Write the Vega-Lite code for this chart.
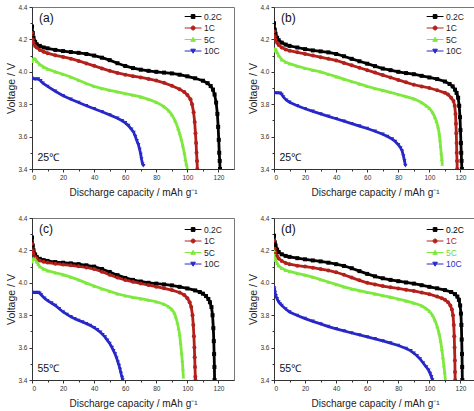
{
  "$schema": "https://vega.github.io/schema/vega-lite/v6.json",
  "background": "white",
  "padding": {"left": 5, "top": 3, "right": 0, "bottom": 0},
  "columns": 2,
  "spacing": {"row": 16, "column": 12},
  "resolve": {
    "scale": {"color": "independent"},
    "legend": {"color": "independent"}
  },
  "config": {
    "font": "Liberation Sans",
    "view": {"stroke": "#777777", "strokeWidth": 1},
    "axis": {
      "grid": false,
      "labelFont": "Liberation Sans",
      "labelFontSize": 6.5,
      "labelColor": "#333333",
      "titleFont": "Liberation Sans",
      "titleFontWeight": "normal",
      "titleColor": "#222222",
      "domainColor": "#333333",
      "tickColor": "#333333",
      "tickSize": 3
    },
    "legend": {"labelFont": "Liberation Sans", "labelColor": "#222222"}
  },
  "datasets": {
    "notes": [
      {"panel": "a", "tag": "(a)", "temp": "25℃"},
      {"panel": "b", "tag": "(b)", "temp": "25℃"},
      {"panel": "c", "tag": "(c)", "temp": "55℃"},
      {"panel": "d", "tag": "(d)", "temp": "55℃"}
    ],
    "a": [
      {"rate": "0.2C", "cap": 0, "v": 4.28}, {"rate": "0.2C", "cap": 0.5, "v": 4.24}, {"rate": "0.2C", "cap": 1, "v": 4.21}, {"rate": "0.2C", "cap": 2, "v": 4.185}, {"rate": "0.2C", "cap": 3, "v": 4.17}, {"rate": "0.2C", "cap": 5, "v": 4.16}, {"rate": "0.2C", "cap": 7.5, "v": 4.15}, {"rate": "0.2C", "cap": 10, "v": 4.145}, {"rate": "0.2C", "cap": 15, "v": 4.135}, {"rate": "0.2C", "cap": 20, "v": 4.128}, {"rate": "0.2C", "cap": 25, "v": 4.122}, {"rate": "0.2C", "cap": 30, "v": 4.117}, {"rate": "0.2C", "cap": 35, "v": 4.11}, {"rate": "0.2C", "cap": 40, "v": 4.1}, {"rate": "0.2C", "cap": 45, "v": 4.087}, {"rate": "0.2C", "cap": 50, "v": 4.072}, {"rate": "0.2C", "cap": 55, "v": 4.053}, {"rate": "0.2C", "cap": 60, "v": 4.036}, {"rate": "0.2C", "cap": 65, "v": 4.023}, {"rate": "0.2C", "cap": 70, "v": 4.013}, {"rate": "0.2C", "cap": 75, "v": 4.006}, {"rate": "0.2C", "cap": 80, "v": 4.0}, {"rate": "0.2C", "cap": 85, "v": 3.995}, {"rate": "0.2C", "cap": 90, "v": 3.99}, {"rate": "0.2C", "cap": 95, "v": 3.982}, {"rate": "0.2C", "cap": 100, "v": 3.972}, {"rate": "0.2C", "cap": 105, "v": 3.96}, {"rate": "0.2C", "cap": 110, "v": 3.945}, {"rate": "0.2C", "cap": 113, "v": 3.93}, {"rate": "0.2C", "cap": 115, "v": 3.912}, {"rate": "0.2C", "cap": 116.5, "v": 3.89}, {"rate": "0.2C", "cap": 117.5, "v": 3.86}, {"rate": "0.2C", "cap": 118.5, "v": 3.81}, {"rate": "0.2C", "cap": 119.3, "v": 3.74}, {"rate": "0.2C", "cap": 119.8, "v": 3.66}, {"rate": "0.2C", "cap": 120.2, "v": 3.58}, {"rate": "0.2C", "cap": 120.5, "v": 3.5}, {"rate": "0.2C", "cap": 120.8, "v": 3.45}, {"rate": "0.2C", "cap": 121, "v": 3.4},
      {"rate": "1C", "cap": 0, "v": 4.24}, {"rate": "1C", "cap": 0.5, "v": 4.2}, {"rate": "1C", "cap": 1, "v": 4.18}, {"rate": "1C", "cap": 2, "v": 4.16}, {"rate": "1C", "cap": 3, "v": 4.15}, {"rate": "1C", "cap": 5, "v": 4.135}, {"rate": "1C", "cap": 7.5, "v": 4.123}, {"rate": "1C", "cap": 10, "v": 4.115}, {"rate": "1C", "cap": 15, "v": 4.102}, {"rate": "1C", "cap": 20, "v": 4.092}, {"rate": "1C", "cap": 25, "v": 4.081}, {"rate": "1C", "cap": 30, "v": 4.067}, {"rate": "1C", "cap": 35, "v": 4.052}, {"rate": "1C", "cap": 40, "v": 4.037}, {"rate": "1C", "cap": 45, "v": 4.021}, {"rate": "1C", "cap": 50, "v": 4.006}, {"rate": "1C", "cap": 55, "v": 3.993}, {"rate": "1C", "cap": 60, "v": 3.982}, {"rate": "1C", "cap": 65, "v": 3.973}, {"rate": "1C", "cap": 70, "v": 3.965}, {"rate": "1C", "cap": 75, "v": 3.956}, {"rate": "1C", "cap": 80, "v": 3.946}, {"rate": "1C", "cap": 85, "v": 3.932}, {"rate": "1C", "cap": 90, "v": 3.914}, {"rate": "1C", "cap": 95, "v": 3.893}, {"rate": "1C", "cap": 98, "v": 3.875}, {"rate": "1C", "cap": 100, "v": 3.857}, {"rate": "1C", "cap": 102, "v": 3.83}, {"rate": "1C", "cap": 103, "v": 3.8}, {"rate": "1C", "cap": 104, "v": 3.75}, {"rate": "1C", "cap": 104.7, "v": 3.69}, {"rate": "1C", "cap": 105.2, "v": 3.62}, {"rate": "1C", "cap": 105.6, "v": 3.56}, {"rate": "1C", "cap": 105.9, "v": 3.5}, {"rate": "1C", "cap": 106.2, "v": 3.45}, {"rate": "1C", "cap": 106.4, "v": 3.4},
      {"rate": "5C", "cap": 0, "v": 4.065}, {"rate": "5C", "cap": 1, "v": 4.08}, {"rate": "5C", "cap": 2, "v": 4.08}, {"rate": "5C", "cap": 3, "v": 4.065}, {"rate": "5C", "cap": 5, "v": 4.045}, {"rate": "5C", "cap": 7.5, "v": 4.03}, {"rate": "5C", "cap": 10, "v": 4.017}, {"rate": "5C", "cap": 15, "v": 4.0}, {"rate": "5C", "cap": 20, "v": 3.985}, {"rate": "5C", "cap": 25, "v": 3.968}, {"rate": "5C", "cap": 30, "v": 3.948}, {"rate": "5C", "cap": 35, "v": 3.928}, {"rate": "5C", "cap": 40, "v": 3.91}, {"rate": "5C", "cap": 45, "v": 3.897}, {"rate": "5C", "cap": 50, "v": 3.886}, {"rate": "5C", "cap": 55, "v": 3.876}, {"rate": "5C", "cap": 60, "v": 3.866}, {"rate": "5C", "cap": 65, "v": 3.856}, {"rate": "5C", "cap": 70, "v": 3.845}, {"rate": "5C", "cap": 75, "v": 3.83}, {"rate": "5C", "cap": 80, "v": 3.812}, {"rate": "5C", "cap": 85, "v": 3.785}, {"rate": "5C", "cap": 88, "v": 3.76}, {"rate": "5C", "cap": 90, "v": 3.735}, {"rate": "5C", "cap": 92, "v": 3.7}, {"rate": "5C", "cap": 94, "v": 3.65}, {"rate": "5C", "cap": 95, "v": 3.62}, {"rate": "5C", "cap": 96, "v": 3.585}, {"rate": "5C", "cap": 97, "v": 3.545}, {"rate": "5C", "cap": 98, "v": 3.5}, {"rate": "5C", "cap": 98.7, "v": 3.46}, {"rate": "5C", "cap": 99.3, "v": 3.43}, {"rate": "5C", "cap": 100, "v": 3.4},
      {"rate": "10C", "cap": 0, "v": 3.96}, {"rate": "10C", "cap": 2, "v": 3.955}, {"rate": "10C", "cap": 4, "v": 3.955}, {"rate": "10C", "cap": 5.5, "v": 3.945}, {"rate": "10C", "cap": 7, "v": 3.93}, {"rate": "10C", "cap": 10, "v": 3.91}, {"rate": "10C", "cap": 15, "v": 3.88}, {"rate": "10C", "cap": 20, "v": 3.852}, {"rate": "10C", "cap": 25, "v": 3.83}, {"rate": "10C", "cap": 30, "v": 3.81}, {"rate": "10C", "cap": 35, "v": 3.79}, {"rate": "10C", "cap": 40, "v": 3.772}, {"rate": "10C", "cap": 45, "v": 3.753}, {"rate": "10C", "cap": 50, "v": 3.734}, {"rate": "10C", "cap": 55, "v": 3.713}, {"rate": "10C", "cap": 58, "v": 3.698}, {"rate": "10C", "cap": 60, "v": 3.685}, {"rate": "10C", "cap": 62, "v": 3.668}, {"rate": "10C", "cap": 64, "v": 3.645}, {"rate": "10C", "cap": 65.5, "v": 3.625}, {"rate": "10C", "cap": 66.5, "v": 3.6}, {"rate": "10C", "cap": 67.5, "v": 3.575}, {"rate": "10C", "cap": 68.5, "v": 3.55}, {"rate": "10C", "cap": 69.3, "v": 3.52}, {"rate": "10C", "cap": 70, "v": 3.49}, {"rate": "10C", "cap": 70.5, "v": 3.46}, {"rate": "10C", "cap": 71.2, "v": 3.43}, {"rate": "10C", "cap": 71.8, "v": 3.42}
    ],
    "b": [
      {"rate": "0.2C", "cap": 0, "v": 4.3}, {"rate": "0.2C", "cap": 0.5, "v": 4.26}, {"rate": "0.2C", "cap": 1, "v": 4.235}, {"rate": "0.2C", "cap": 2, "v": 4.21}, {"rate": "0.2C", "cap": 3, "v": 4.195}, {"rate": "0.2C", "cap": 5, "v": 4.18}, {"rate": "0.2C", "cap": 7.5, "v": 4.168}, {"rate": "0.2C", "cap": 10, "v": 4.16}, {"rate": "0.2C", "cap": 15, "v": 4.15}, {"rate": "0.2C", "cap": 20, "v": 4.14}, {"rate": "0.2C", "cap": 25, "v": 4.132}, {"rate": "0.2C", "cap": 30, "v": 4.126}, {"rate": "0.2C", "cap": 35, "v": 4.12}, {"rate": "0.2C", "cap": 40, "v": 4.11}, {"rate": "0.2C", "cap": 45, "v": 4.096}, {"rate": "0.2C", "cap": 50, "v": 4.08}, {"rate": "0.2C", "cap": 55, "v": 4.065}, {"rate": "0.2C", "cap": 60, "v": 4.05}, {"rate": "0.2C", "cap": 65, "v": 4.035}, {"rate": "0.2C", "cap": 70, "v": 4.02}, {"rate": "0.2C", "cap": 75, "v": 4.01}, {"rate": "0.2C", "cap": 80, "v": 4.0}, {"rate": "0.2C", "cap": 85, "v": 3.992}, {"rate": "0.2C", "cap": 90, "v": 3.985}, {"rate": "0.2C", "cap": 95, "v": 3.975}, {"rate": "0.2C", "cap": 100, "v": 3.965}, {"rate": "0.2C", "cap": 105, "v": 3.955}, {"rate": "0.2C", "cap": 110, "v": 3.94}, {"rate": "0.2C", "cap": 113, "v": 3.925}, {"rate": "0.2C", "cap": 115, "v": 3.91}, {"rate": "0.2C", "cap": 116.5, "v": 3.89}, {"rate": "0.2C", "cap": 117.5, "v": 3.87}, {"rate": "0.2C", "cap": 118.5, "v": 3.84}, {"rate": "0.2C", "cap": 119.2, "v": 3.79}, {"rate": "0.2C", "cap": 119.7, "v": 3.72}, {"rate": "0.2C", "cap": 120, "v": 3.64}, {"rate": "0.2C", "cap": 120.3, "v": 3.56}, {"rate": "0.2C", "cap": 120.5, "v": 3.5}, {"rate": "0.2C", "cap": 120.7, "v": 3.45}, {"rate": "0.2C", "cap": 120.9, "v": 3.4},
      {"rate": "1C", "cap": 0, "v": 4.25}, {"rate": "1C", "cap": 0.5, "v": 4.22}, {"rate": "1C", "cap": 1, "v": 4.2}, {"rate": "1C", "cap": 2, "v": 4.18}, {"rate": "1C", "cap": 3, "v": 4.165}, {"rate": "1C", "cap": 5, "v": 4.15}, {"rate": "1C", "cap": 7.5, "v": 4.138}, {"rate": "1C", "cap": 10, "v": 4.13}, {"rate": "1C", "cap": 15, "v": 4.12}, {"rate": "1C", "cap": 20, "v": 4.11}, {"rate": "1C", "cap": 25, "v": 4.1}, {"rate": "1C", "cap": 30, "v": 4.09}, {"rate": "1C", "cap": 35, "v": 4.08}, {"rate": "1C", "cap": 40, "v": 4.07}, {"rate": "1C", "cap": 45, "v": 4.055}, {"rate": "1C", "cap": 50, "v": 4.04}, {"rate": "1C", "cap": 55, "v": 4.025}, {"rate": "1C", "cap": 60, "v": 4.01}, {"rate": "1C", "cap": 65, "v": 3.995}, {"rate": "1C", "cap": 70, "v": 3.98}, {"rate": "1C", "cap": 75, "v": 3.965}, {"rate": "1C", "cap": 80, "v": 3.95}, {"rate": "1C", "cap": 85, "v": 3.935}, {"rate": "1C", "cap": 90, "v": 3.92}, {"rate": "1C", "cap": 95, "v": 3.91}, {"rate": "1C", "cap": 100, "v": 3.9}, {"rate": "1C", "cap": 105, "v": 3.886}, {"rate": "1C", "cap": 110, "v": 3.87}, {"rate": "1C", "cap": 112, "v": 3.86}, {"rate": "1C", "cap": 114, "v": 3.84}, {"rate": "1C", "cap": 115.5, "v": 3.82}, {"rate": "1C", "cap": 116.3, "v": 3.79}, {"rate": "1C", "cap": 116.8, "v": 3.74}, {"rate": "1C", "cap": 117.1, "v": 3.68}, {"rate": "1C", "cap": 117.3, "v": 3.62}, {"rate": "1C", "cap": 117.5, "v": 3.56}, {"rate": "1C", "cap": 117.6, "v": 3.5}, {"rate": "1C", "cap": 117.8, "v": 3.45}, {"rate": "1C", "cap": 117.9, "v": 3.4},
      {"rate": "5C", "cap": 0, "v": 4.13}, {"rate": "5C", "cap": 0.5, "v": 4.14}, {"rate": "5C", "cap": 1, "v": 4.14}, {"rate": "5C", "cap": 2, "v": 4.12}, {"rate": "5C", "cap": 3, "v": 4.1}, {"rate": "5C", "cap": 5, "v": 4.075}, {"rate": "5C", "cap": 7.5, "v": 4.06}, {"rate": "5C", "cap": 10, "v": 4.05}, {"rate": "5C", "cap": 15, "v": 4.035}, {"rate": "5C", "cap": 20, "v": 4.022}, {"rate": "5C", "cap": 25, "v": 4.01}, {"rate": "5C", "cap": 30, "v": 4.0}, {"rate": "5C", "cap": 35, "v": 3.985}, {"rate": "5C", "cap": 40, "v": 3.97}, {"rate": "5C", "cap": 45, "v": 3.955}, {"rate": "5C", "cap": 50, "v": 3.94}, {"rate": "5C", "cap": 55, "v": 3.925}, {"rate": "5C", "cap": 60, "v": 3.91}, {"rate": "5C", "cap": 65, "v": 3.897}, {"rate": "5C", "cap": 70, "v": 3.885}, {"rate": "5C", "cap": 75, "v": 3.873}, {"rate": "5C", "cap": 80, "v": 3.86}, {"rate": "5C", "cap": 85, "v": 3.847}, {"rate": "5C", "cap": 90, "v": 3.833}, {"rate": "5C", "cap": 95, "v": 3.81}, {"rate": "5C", "cap": 98, "v": 3.79}, {"rate": "5C", "cap": 100, "v": 3.775}, {"rate": "5C", "cap": 102, "v": 3.75}, {"rate": "5C", "cap": 103.5, "v": 3.72}, {"rate": "5C", "cap": 104.5, "v": 3.695}, {"rate": "5C", "cap": 105.5, "v": 3.66}, {"rate": "5C", "cap": 106.3, "v": 3.62}, {"rate": "5C", "cap": 106.8, "v": 3.58}, {"rate": "5C", "cap": 107.2, "v": 3.54}, {"rate": "5C", "cap": 107.6, "v": 3.5}, {"rate": "5C", "cap": 108, "v": 3.46}, {"rate": "5C", "cap": 108.3, "v": 3.43},
      {"rate": "10C", "cap": 0, "v": 3.87}, {"rate": "10C", "cap": 2, "v": 3.87}, {"rate": "10C", "cap": 4, "v": 3.868}, {"rate": "10C", "cap": 5, "v": 3.86}, {"rate": "10C", "cap": 6, "v": 3.845}, {"rate": "10C", "cap": 8, "v": 3.825}, {"rate": "10C", "cap": 10, "v": 3.812}, {"rate": "10C", "cap": 15, "v": 3.79}, {"rate": "10C", "cap": 20, "v": 3.772}, {"rate": "10C", "cap": 25, "v": 3.756}, {"rate": "10C", "cap": 30, "v": 3.74}, {"rate": "10C", "cap": 35, "v": 3.725}, {"rate": "10C", "cap": 40, "v": 3.71}, {"rate": "10C", "cap": 45, "v": 3.695}, {"rate": "10C", "cap": 50, "v": 3.68}, {"rate": "10C", "cap": 55, "v": 3.665}, {"rate": "10C", "cap": 60, "v": 3.65}, {"rate": "10C", "cap": 65, "v": 3.633}, {"rate": "10C", "cap": 70, "v": 3.615}, {"rate": "10C", "cap": 73, "v": 3.6}, {"rate": "10C", "cap": 76, "v": 3.585}, {"rate": "10C", "cap": 78, "v": 3.57}, {"rate": "10C", "cap": 80, "v": 3.55}, {"rate": "10C", "cap": 81.5, "v": 3.53}, {"rate": "10C", "cap": 82.5, "v": 3.51}, {"rate": "10C", "cap": 83.3, "v": 3.48}, {"rate": "10C", "cap": 84, "v": 3.45}, {"rate": "10C", "cap": 84.6, "v": 3.42}
    ],
    "c": [
      {"rate": "0.2C", "cap": 0, "v": 4.28}, {"rate": "0.2C", "cap": 0.5, "v": 4.23}, {"rate": "0.2C", "cap": 1, "v": 4.2}, {"rate": "0.2C", "cap": 2, "v": 4.175}, {"rate": "0.2C", "cap": 3, "v": 4.16}, {"rate": "0.2C", "cap": 5, "v": 4.148}, {"rate": "0.2C", "cap": 7.5, "v": 4.14}, {"rate": "0.2C", "cap": 10, "v": 4.135}, {"rate": "0.2C", "cap": 15, "v": 4.128}, {"rate": "0.2C", "cap": 20, "v": 4.124}, {"rate": "0.2C", "cap": 25, "v": 4.12}, {"rate": "0.2C", "cap": 30, "v": 4.115}, {"rate": "0.2C", "cap": 35, "v": 4.108}, {"rate": "0.2C", "cap": 40, "v": 4.1}, {"rate": "0.2C", "cap": 45, "v": 4.085}, {"rate": "0.2C", "cap": 50, "v": 4.067}, {"rate": "0.2C", "cap": 55, "v": 4.047}, {"rate": "0.2C", "cap": 60, "v": 4.03}, {"rate": "0.2C", "cap": 65, "v": 4.018}, {"rate": "0.2C", "cap": 70, "v": 4.008}, {"rate": "0.2C", "cap": 75, "v": 4.0}, {"rate": "0.2C", "cap": 80, "v": 3.995}, {"rate": "0.2C", "cap": 85, "v": 3.99}, {"rate": "0.2C", "cap": 90, "v": 3.984}, {"rate": "0.2C", "cap": 95, "v": 3.975}, {"rate": "0.2C", "cap": 100, "v": 3.965}, {"rate": "0.2C", "cap": 105, "v": 3.953}, {"rate": "0.2C", "cap": 108, "v": 3.943}, {"rate": "0.2C", "cap": 110, "v": 3.933}, {"rate": "0.2C", "cap": 112, "v": 3.918}, {"rate": "0.2C", "cap": 113.5, "v": 3.9}, {"rate": "0.2C", "cap": 114.5, "v": 3.88}, {"rate": "0.2C", "cap": 115.5, "v": 3.85}, {"rate": "0.2C", "cap": 116.2, "v": 3.8}, {"rate": "0.2C", "cap": 116.7, "v": 3.72}, {"rate": "0.2C", "cap": 117, "v": 3.64}, {"rate": "0.2C", "cap": 117.2, "v": 3.56}, {"rate": "0.2C", "cap": 117.4, "v": 3.48}, {"rate": "0.2C", "cap": 117.5, "v": 3.4},
      {"rate": "1C", "cap": 0, "v": 4.24}, {"rate": "1C", "cap": 0.5, "v": 4.2}, {"rate": "1C", "cap": 1, "v": 4.18}, {"rate": "1C", "cap": 2, "v": 4.16}, {"rate": "1C", "cap": 3, "v": 4.15}, {"rate": "1C", "cap": 5, "v": 4.138}, {"rate": "1C", "cap": 7.5, "v": 4.13}, {"rate": "1C", "cap": 10, "v": 4.125}, {"rate": "1C", "cap": 15, "v": 4.118}, {"rate": "1C", "cap": 20, "v": 4.113}, {"rate": "1C", "cap": 25, "v": 4.108}, {"rate": "1C", "cap": 30, "v": 4.102}, {"rate": "1C", "cap": 35, "v": 4.095}, {"rate": "1C", "cap": 40, "v": 4.085}, {"rate": "1C", "cap": 45, "v": 4.068}, {"rate": "1C", "cap": 50, "v": 4.05}, {"rate": "1C", "cap": 55, "v": 4.032}, {"rate": "1C", "cap": 60, "v": 4.018}, {"rate": "1C", "cap": 65, "v": 4.006}, {"rate": "1C", "cap": 70, "v": 3.996}, {"rate": "1C", "cap": 75, "v": 3.986}, {"rate": "1C", "cap": 80, "v": 3.976}, {"rate": "1C", "cap": 85, "v": 3.966}, {"rate": "1C", "cap": 90, "v": 3.955}, {"rate": "1C", "cap": 95, "v": 3.94}, {"rate": "1C", "cap": 98, "v": 3.925}, {"rate": "1C", "cap": 100, "v": 3.905}, {"rate": "1C", "cap": 101.5, "v": 3.88}, {"rate": "1C", "cap": 102.5, "v": 3.85}, {"rate": "1C", "cap": 103.3, "v": 3.8}, {"rate": "1C", "cap": 103.8, "v": 3.74}, {"rate": "1C", "cap": 104.2, "v": 3.67}, {"rate": "1C", "cap": 104.5, "v": 3.6}, {"rate": "1C", "cap": 104.7, "v": 3.54}, {"rate": "1C", "cap": 104.9, "v": 3.48}, {"rate": "1C", "cap": 105.1, "v": 3.42}, {"rate": "1C", "cap": 105.2, "v": 3.4},
      {"rate": "5C", "cap": 0, "v": 4.13}, {"rate": "5C", "cap": 1, "v": 4.15}, {"rate": "5C", "cap": 2, "v": 4.15}, {"rate": "5C", "cap": 3, "v": 4.13}, {"rate": "5C", "cap": 4, "v": 4.115}, {"rate": "5C", "cap": 5, "v": 4.1}, {"rate": "5C", "cap": 7.5, "v": 4.085}, {"rate": "5C", "cap": 10, "v": 4.075}, {"rate": "5C", "cap": 15, "v": 4.062}, {"rate": "5C", "cap": 20, "v": 4.05}, {"rate": "5C", "cap": 25, "v": 4.035}, {"rate": "5C", "cap": 30, "v": 4.018}, {"rate": "5C", "cap": 35, "v": 3.998}, {"rate": "5C", "cap": 40, "v": 3.98}, {"rate": "5C", "cap": 45, "v": 3.963}, {"rate": "5C", "cap": 50, "v": 3.948}, {"rate": "5C", "cap": 55, "v": 3.932}, {"rate": "5C", "cap": 60, "v": 3.92}, {"rate": "5C", "cap": 65, "v": 3.91}, {"rate": "5C", "cap": 70, "v": 3.902}, {"rate": "5C", "cap": 75, "v": 3.893}, {"rate": "5C", "cap": 80, "v": 3.883}, {"rate": "5C", "cap": 85, "v": 3.868}, {"rate": "5C", "cap": 88, "v": 3.852}, {"rate": "5C", "cap": 90, "v": 3.835}, {"rate": "5C", "cap": 91.5, "v": 3.815}, {"rate": "5C", "cap": 92.5, "v": 3.79}, {"rate": "5C", "cap": 93.5, "v": 3.755}, {"rate": "5C", "cap": 94.3, "v": 3.72}, {"rate": "5C", "cap": 95, "v": 3.68}, {"rate": "5C", "cap": 95.6, "v": 3.63}, {"rate": "5C", "cap": 96.2, "v": 3.57}, {"rate": "5C", "cap": 96.7, "v": 3.52}, {"rate": "5C", "cap": 97.1, "v": 3.47}, {"rate": "5C", "cap": 97.4, "v": 3.42},
      {"rate": "10C", "cap": 0, "v": 3.94}, {"rate": "10C", "cap": 2, "v": 3.94}, {"rate": "10C", "cap": 4, "v": 3.94}, {"rate": "10C", "cap": 5, "v": 3.935}, {"rate": "10C", "cap": 6, "v": 3.925}, {"rate": "10C", "cap": 8, "v": 3.905}, {"rate": "10C", "cap": 10, "v": 3.89}, {"rate": "10C", "cap": 12.5, "v": 3.875}, {"rate": "10C", "cap": 15, "v": 3.86}, {"rate": "10C", "cap": 17.5, "v": 3.84}, {"rate": "10C", "cap": 20, "v": 3.82}, {"rate": "10C", "cap": 22.5, "v": 3.805}, {"rate": "10C", "cap": 25, "v": 3.79}, {"rate": "10C", "cap": 27.5, "v": 3.778}, {"rate": "10C", "cap": 30, "v": 3.768}, {"rate": "10C", "cap": 32.5, "v": 3.758}, {"rate": "10C", "cap": 35, "v": 3.748}, {"rate": "10C", "cap": 37.5, "v": 3.737}, {"rate": "10C", "cap": 40, "v": 3.723}, {"rate": "10C", "cap": 42, "v": 3.71}, {"rate": "10C", "cap": 44, "v": 3.695}, {"rate": "10C", "cap": 45.5, "v": 3.68}, {"rate": "10C", "cap": 47, "v": 3.665}, {"rate": "10C", "cap": 48.5, "v": 3.645}, {"rate": "10C", "cap": 50, "v": 3.625}, {"rate": "10C", "cap": 51.5, "v": 3.6}, {"rate": "10C", "cap": 52.5, "v": 3.58}, {"rate": "10C", "cap": 53.5, "v": 3.56}, {"rate": "10C", "cap": 54.5, "v": 3.535}, {"rate": "10C", "cap": 55.3, "v": 3.51}, {"rate": "10C", "cap": 56, "v": 3.49}, {"rate": "10C", "cap": 56.7, "v": 3.465}, {"rate": "10C", "cap": 57.3, "v": 3.44}, {"rate": "10C", "cap": 58, "v": 3.415}, {"rate": "10C", "cap": 58.4, "v": 3.4}
    ],
    "d": [
      {"rate": "0.2C", "cap": 0, "v": 4.29}, {"rate": "0.2C", "cap": 0.5, "v": 4.25}, {"rate": "0.2C", "cap": 1, "v": 4.23}, {"rate": "0.2C", "cap": 2, "v": 4.205}, {"rate": "0.2C", "cap": 3, "v": 4.19}, {"rate": "0.2C", "cap": 5, "v": 4.176}, {"rate": "0.2C", "cap": 7.5, "v": 4.166}, {"rate": "0.2C", "cap": 10, "v": 4.16}, {"rate": "0.2C", "cap": 15, "v": 4.152}, {"rate": "0.2C", "cap": 20, "v": 4.145}, {"rate": "0.2C", "cap": 25, "v": 4.138}, {"rate": "0.2C", "cap": 30, "v": 4.132}, {"rate": "0.2C", "cap": 35, "v": 4.124}, {"rate": "0.2C", "cap": 40, "v": 4.115}, {"rate": "0.2C", "cap": 45, "v": 4.104}, {"rate": "0.2C", "cap": 50, "v": 4.09}, {"rate": "0.2C", "cap": 55, "v": 4.072}, {"rate": "0.2C", "cap": 60, "v": 4.055}, {"rate": "0.2C", "cap": 65, "v": 4.04}, {"rate": "0.2C", "cap": 70, "v": 4.028}, {"rate": "0.2C", "cap": 75, "v": 4.018}, {"rate": "0.2C", "cap": 80, "v": 4.01}, {"rate": "0.2C", "cap": 85, "v": 4.002}, {"rate": "0.2C", "cap": 90, "v": 3.995}, {"rate": "0.2C", "cap": 95, "v": 3.985}, {"rate": "0.2C", "cap": 100, "v": 3.975}, {"rate": "0.2C", "cap": 105, "v": 3.966}, {"rate": "0.2C", "cap": 110, "v": 3.955}, {"rate": "0.2C", "cap": 114, "v": 3.943}, {"rate": "0.2C", "cap": 116.5, "v": 3.93}, {"rate": "0.2C", "cap": 118, "v": 3.915}, {"rate": "0.2C", "cap": 119, "v": 3.895}, {"rate": "0.2C", "cap": 119.8, "v": 3.86}, {"rate": "0.2C", "cap": 120.3, "v": 3.81}, {"rate": "0.2C", "cap": 120.6, "v": 3.74}, {"rate": "0.2C", "cap": 120.8, "v": 3.65}, {"rate": "0.2C", "cap": 121, "v": 3.56}, {"rate": "0.2C", "cap": 121.1, "v": 3.48}, {"rate": "0.2C", "cap": 121.2, "v": 3.4},
      {"rate": "1C", "cap": 0, "v": 4.26}, {"rate": "1C", "cap": 0.5, "v": 4.21}, {"rate": "1C", "cap": 1, "v": 4.19}, {"rate": "1C", "cap": 2, "v": 4.165}, {"rate": "1C", "cap": 3, "v": 4.15}, {"rate": "1C", "cap": 5, "v": 4.135}, {"rate": "1C", "cap": 7.5, "v": 4.122}, {"rate": "1C", "cap": 10, "v": 4.115}, {"rate": "1C", "cap": 15, "v": 4.106}, {"rate": "1C", "cap": 20, "v": 4.1}, {"rate": "1C", "cap": 25, "v": 4.093}, {"rate": "1C", "cap": 30, "v": 4.085}, {"rate": "1C", "cap": 35, "v": 4.076}, {"rate": "1C", "cap": 40, "v": 4.065}, {"rate": "1C", "cap": 45, "v": 4.05}, {"rate": "1C", "cap": 50, "v": 4.032}, {"rate": "1C", "cap": 55, "v": 4.015}, {"rate": "1C", "cap": 60, "v": 4.0}, {"rate": "1C", "cap": 65, "v": 3.99}, {"rate": "1C", "cap": 70, "v": 3.98}, {"rate": "1C", "cap": 75, "v": 3.972}, {"rate": "1C", "cap": 80, "v": 3.965}, {"rate": "1C", "cap": 85, "v": 3.957}, {"rate": "1C", "cap": 90, "v": 3.95}, {"rate": "1C", "cap": 95, "v": 3.94}, {"rate": "1C", "cap": 100, "v": 3.93}, {"rate": "1C", "cap": 105, "v": 3.915}, {"rate": "1C", "cap": 108, "v": 3.905}, {"rate": "1C", "cap": 110, "v": 3.895}, {"rate": "1C", "cap": 112, "v": 3.88}, {"rate": "1C", "cap": 113.5, "v": 3.86}, {"rate": "1C", "cap": 114.5, "v": 3.835}, {"rate": "1C", "cap": 115.2, "v": 3.8}, {"rate": "1C", "cap": 115.7, "v": 3.74}, {"rate": "1C", "cap": 116, "v": 3.67}, {"rate": "1C", "cap": 116.2, "v": 3.6}, {"rate": "1C", "cap": 116.4, "v": 3.52}, {"rate": "1C", "cap": 116.5, "v": 3.45}, {"rate": "1C", "cap": 116.6, "v": 3.4},
      {"rate": "5C", "cap": 0, "v": 4.2}, {"rate": "5C", "cap": 0.5, "v": 4.16}, {"rate": "5C", "cap": 1, "v": 4.14}, {"rate": "5C", "cap": 2, "v": 4.12}, {"rate": "5C", "cap": 3, "v": 4.105}, {"rate": "5C", "cap": 5, "v": 4.09}, {"rate": "5C", "cap": 7.5, "v": 4.078}, {"rate": "5C", "cap": 10, "v": 4.07}, {"rate": "5C", "cap": 15, "v": 4.058}, {"rate": "5C", "cap": 20, "v": 4.048}, {"rate": "5C", "cap": 25, "v": 4.035}, {"rate": "5C", "cap": 30, "v": 4.02}, {"rate": "5C", "cap": 35, "v": 4.005}, {"rate": "5C", "cap": 40, "v": 3.99}, {"rate": "5C", "cap": 45, "v": 3.975}, {"rate": "5C", "cap": 50, "v": 3.962}, {"rate": "5C", "cap": 55, "v": 3.951}, {"rate": "5C", "cap": 60, "v": 3.941}, {"rate": "5C", "cap": 65, "v": 3.931}, {"rate": "5C", "cap": 70, "v": 3.921}, {"rate": "5C", "cap": 75, "v": 3.911}, {"rate": "5C", "cap": 80, "v": 3.9}, {"rate": "5C", "cap": 85, "v": 3.888}, {"rate": "5C", "cap": 90, "v": 3.875}, {"rate": "5C", "cap": 95, "v": 3.858}, {"rate": "5C", "cap": 98, "v": 3.84}, {"rate": "5C", "cap": 100, "v": 3.825}, {"rate": "5C", "cap": 102, "v": 3.8}, {"rate": "5C", "cap": 103.5, "v": 3.77}, {"rate": "5C", "cap": 105, "v": 3.73}, {"rate": "5C", "cap": 106.2, "v": 3.69}, {"rate": "5C", "cap": 107.2, "v": 3.64}, {"rate": "5C", "cap": 108, "v": 3.59}, {"rate": "5C", "cap": 108.7, "v": 3.54}, {"rate": "5C", "cap": 109.3, "v": 3.49}, {"rate": "5C", "cap": 109.8, "v": 3.45}, {"rate": "5C", "cap": 110.3, "v": 3.4},
      {"rate": "10C", "cap": 0, "v": 3.97}, {"rate": "10C", "cap": 0.3, "v": 3.96}, {"rate": "10C", "cap": 0.7, "v": 3.94}, {"rate": "10C", "cap": 1.2, "v": 3.92}, {"rate": "10C", "cap": 2, "v": 3.9}, {"rate": "10C", "cap": 3, "v": 3.882}, {"rate": "10C", "cap": 4, "v": 3.87}, {"rate": "10C", "cap": 5, "v": 3.86}, {"rate": "10C", "cap": 7.5, "v": 3.838}, {"rate": "10C", "cap": 10, "v": 3.82}, {"rate": "10C", "cap": 15, "v": 3.798}, {"rate": "10C", "cap": 20, "v": 3.779}, {"rate": "10C", "cap": 25, "v": 3.762}, {"rate": "10C", "cap": 30, "v": 3.746}, {"rate": "10C", "cap": 35, "v": 3.73}, {"rate": "10C", "cap": 40, "v": 3.716}, {"rate": "10C", "cap": 45, "v": 3.703}, {"rate": "10C", "cap": 50, "v": 3.69}, {"rate": "10C", "cap": 55, "v": 3.678}, {"rate": "10C", "cap": 60, "v": 3.666}, {"rate": "10C", "cap": 65, "v": 3.654}, {"rate": "10C", "cap": 70, "v": 3.641}, {"rate": "10C", "cap": 75, "v": 3.628}, {"rate": "10C", "cap": 80, "v": 3.613}, {"rate": "10C", "cap": 85, "v": 3.595}, {"rate": "10C", "cap": 88, "v": 3.58}, {"rate": "10C", "cap": 90, "v": 3.565}, {"rate": "10C", "cap": 92, "v": 3.55}, {"rate": "10C", "cap": 94, "v": 3.53}, {"rate": "10C", "cap": 96, "v": 3.505}, {"rate": "10C", "cap": 98, "v": 3.48}, {"rate": "10C", "cap": 99.5, "v": 3.46}, {"rate": "10C", "cap": 100.5, "v": 3.44}, {"rate": "10C", "cap": 101.3, "v": 3.42}, {"rate": "10C", "cap": 102, "v": 3.4}
    ]
  },
  "concat": [
    {
      "width": 202, "height": 162,
      "data": {"name": "a"},
      "layer": [
        {"mark": {"type": "line", "strokeWidth": 2.8, "clip": true},
         "encoding": {
           "x": {"field": "cap", "type": "quantitative", "scale": {"domain": [0, 130], "nice": false, "zero": false}, "axis": {"orient": "bottom", "values": [0, 20, 40, 60, 80, 100, 120], "title": "Discharge capacity / mAh g⁻¹", "titleFontSize": 10, "titlePadding": 6.5, "labelPadding": 2}},
           "y": {"field": "v", "type": "quantitative", "scale": {"domain": [3.4, 4.4], "nice": false, "zero": false}, "axis": {"orient": "left", "values": [3.4, 3.6, 3.8, 4.0, 4.2, 4.4], "format": ".1f", "title": "Voltage / V", "titleFontSize": 10.5, "titlePadding": 1.5, "labelPadding": 2}},
           "color": {"field": "rate", "type": "nominal", "scale": {"domain": ["0.2C", "1C", "5C", "10C"], "range": ["#000000", "#b3201c", "#7ee83e", "#2828c8"]},
             "legend": {"title": null, "orient": "none", "legendX": 161, "legendY": 5, "padding": 0, "symbolSize": 64, "labelFontSize": 8.5, "labelOffset": 2, "rowPadding": 2.5,
               "encode": {"symbols": {"update": {
                 "shape": {"signal": "datum.value === '0.2C' ? 'M-3.2,0H1M-1.57,-0.47H-0.63V0.47H-1.57Z' : datum.value === '1C' ? 'M-3.2,0H1M-1.6,0A0.5,0.5 0 1,0 -0.6,0A0.5,0.5 0 1,0 -1.6,0Z' : datum.value === '5C' ? 'M-3.2,0H1M-1.1,-0.55L-0.52,0.45H-1.68Z' : 'M-3.2,0H1M-1.1,0.55L-0.52,-0.45H-1.68Z'"},
                 "stroke": {"signal": "datum.value === '0.2C' ? '#000000' : datum.value === '1C' ? '#b3201c' : datum.value === '5C' ? '#7ee83e' : '#2828c8'"},
                 "fill": {"signal": "datum.value === '0.2C' ? '#000000' : datum.value === '1C' ? '#b3201c' : datum.value === '5C' ? '#7ee83e' : '#2828c8'"},
                 "size": {"value": 64}, "strokeWidth": {"value": 1}, "opacity": {"value": 1}}}}}}
         }},
        {"mark": {"type": "point", "filled": true, "size": 16, "opacity": 1, "clip": true},
         "encoding": {
           "x": {"field": "cap", "type": "quantitative", "axis": {"orient": "bottom", "values": [10, 30, 50, 70, 90, 110], "labels": false, "domain": false, "title": null, "tickSize": 2}},
           "y": {"field": "v", "type": "quantitative", "axis": {"orient": "left", "values": [3.5, 3.7, 3.9, 4.1, 4.3], "labels": false, "domain": false, "title": null, "tickSize": 2}},
           "color": {"field": "rate", "type": "nominal", "scale": {"domain": ["0.2C", "1C", "5C", "10C"], "range": ["#000000", "#b3201c", "#7ee83e", "#2828c8"]},
             "legend": {"title": null, "orient": "none", "legendX": 161, "legendY": 5, "padding": 0, "symbolSize": 64, "labelFontSize": 8.5, "labelOffset": 2, "rowPadding": 2.5,
               "encode": {"symbols": {"update": {
                 "shape": {"signal": "datum.value === '0.2C' ? 'M-3.2,0H1M-1.57,-0.47H-0.63V0.47H-1.57Z' : datum.value === '1C' ? 'M-3.2,0H1M-1.6,0A0.5,0.5 0 1,0 -0.6,0A0.5,0.5 0 1,0 -1.6,0Z' : datum.value === '5C' ? 'M-3.2,0H1M-1.1,-0.55L-0.52,0.45H-1.68Z' : 'M-3.2,0H1M-1.1,0.55L-0.52,-0.45H-1.68Z'"},
                 "stroke": {"signal": "datum.value === '0.2C' ? '#000000' : datum.value === '1C' ? '#b3201c' : datum.value === '5C' ? '#7ee83e' : '#2828c8'"},
                 "fill": {"signal": "datum.value === '0.2C' ? '#000000' : datum.value === '1C' ? '#b3201c' : datum.value === '5C' ? '#7ee83e' : '#2828c8'"},
                 "size": {"value": 64}, "strokeWidth": {"value": 1}, "opacity": {"value": 1}}}}}},
           "shape": {"condition": [{"test": "datum.rate === '0.2C'", "value": "square"}, {"test": "datum.rate === '1C'", "value": "circle"}, {"test": "datum.rate === '5C'", "value": "triangle-up"}], "value": "triangle-down"}
         }},
        {"data": {"name": "notes"}, "transform": [{"filter": "datum.panel === 'a'"}],
         "mark": {"type": "text", "align": "left", "baseline": "middle", "fontSize": 12, "color": "#111111"},
         "encoding": {"x": {"datum": 4.5, "type": "quantitative", "axis": null}, "y": {"datum": 4.33, "type": "quantitative", "axis": null}, "text": {"field": "tag"}}},
        {"data": {"name": "notes"}, "transform": [{"filter": "datum.panel === 'a'"}],
         "mark": {"type": "text", "align": "left", "baseline": "middle", "fontSize": 10.5, "color": "#111111"},
         "encoding": {"x": {"datum": 3.5, "type": "quantitative", "axis": null}, "y": {"datum": 3.47, "type": "quantitative", "axis": null}, "text": {"field": "temp"}}}
      ],
      "resolve": {"axis": {"x": "independent", "y": "independent"}}
    },
    {
      "width": 202, "height": 162,
      "data": {"name": "b"},
      "layer": [
        {"mark": {"type": "line", "strokeWidth": 2.8, "clip": true},
         "encoding": {
           "x": {"field": "cap", "type": "quantitative", "scale": {"domain": [0, 130], "nice": false, "zero": false}, "axis": {"orient": "bottom", "values": [0, 20, 40, 60, 80, 100, 120], "title": "Discharge capacity / mAh g⁻¹", "titleFontSize": 10, "titlePadding": 6.5, "labelPadding": 2}},
           "y": {"field": "v", "type": "quantitative", "scale": {"domain": [3.4, 4.4], "nice": false, "zero": false}, "axis": {"orient": "left", "values": [3.4, 3.6, 3.8, 4.0, 4.2, 4.4], "format": ".1f", "title": "Voltage / V", "titleFontSize": 10.5, "titlePadding": 1.5, "labelPadding": 2}},
           "color": {"field": "rate", "type": "nominal", "scale": {"domain": ["0.2C", "1C", "5C", "10C"], "range": ["#000000", "#b3201c", "#7ee83e", "#2828c8"]},
             "legend": {"title": null, "orient": "none", "legendX": 161, "legendY": 5, "padding": 0, "symbolSize": 64, "labelFontSize": 8.5, "labelOffset": 2, "rowPadding": 2.5,
               "encode": {"symbols": {"update": {
                 "shape": {"signal": "datum.value === '0.2C' ? 'M-3.2,0H1M-1.57,-0.47H-0.63V0.47H-1.57Z' : datum.value === '1C' ? 'M-3.2,0H1M-1.6,0A0.5,0.5 0 1,0 -0.6,0A0.5,0.5 0 1,0 -1.6,0Z' : datum.value === '5C' ? 'M-3.2,0H1M-1.1,-0.55L-0.52,0.45H-1.68Z' : 'M-3.2,0H1M-1.1,0.55L-0.52,-0.45H-1.68Z'"},
                 "stroke": {"signal": "datum.value === '0.2C' ? '#000000' : datum.value === '1C' ? '#b3201c' : datum.value === '5C' ? '#7ee83e' : '#2828c8'"},
                 "fill": {"signal": "datum.value === '0.2C' ? '#000000' : datum.value === '1C' ? '#b3201c' : datum.value === '5C' ? '#7ee83e' : '#2828c8'"},
                 "size": {"value": 64}, "strokeWidth": {"value": 1}, "opacity": {"value": 1}}}}}}
         }},
        {"mark": {"type": "point", "filled": true, "size": 16, "opacity": 1, "clip": true},
         "encoding": {
           "x": {"field": "cap", "type": "quantitative", "axis": {"orient": "bottom", "values": [10, 30, 50, 70, 90, 110], "labels": false, "domain": false, "title": null, "tickSize": 2}},
           "y": {"field": "v", "type": "quantitative", "axis": {"orient": "left", "values": [3.5, 3.7, 3.9, 4.1, 4.3], "labels": false, "domain": false, "title": null, "tickSize": 2}},
           "color": {"field": "rate", "type": "nominal", "scale": {"domain": ["0.2C", "1C", "5C", "10C"], "range": ["#000000", "#b3201c", "#7ee83e", "#2828c8"]},
             "legend": {"title": null, "orient": "none", "legendX": 161, "legendY": 5, "padding": 0, "symbolSize": 64, "labelFontSize": 8.5, "labelOffset": 2, "rowPadding": 2.5,
               "encode": {"symbols": {"update": {
                 "shape": {"signal": "datum.value === '0.2C' ? 'M-3.2,0H1M-1.57,-0.47H-0.63V0.47H-1.57Z' : datum.value === '1C' ? 'M-3.2,0H1M-1.6,0A0.5,0.5 0 1,0 -0.6,0A0.5,0.5 0 1,0 -1.6,0Z' : datum.value === '5C' ? 'M-3.2,0H1M-1.1,-0.55L-0.52,0.45H-1.68Z' : 'M-3.2,0H1M-1.1,0.55L-0.52,-0.45H-1.68Z'"},
                 "stroke": {"signal": "datum.value === '0.2C' ? '#000000' : datum.value === '1C' ? '#b3201c' : datum.value === '5C' ? '#7ee83e' : '#2828c8'"},
                 "fill": {"signal": "datum.value === '0.2C' ? '#000000' : datum.value === '1C' ? '#b3201c' : datum.value === '5C' ? '#7ee83e' : '#2828c8'"},
                 "size": {"value": 64}, "strokeWidth": {"value": 1}, "opacity": {"value": 1}}}}}},
           "shape": {"condition": [{"test": "datum.rate === '0.2C'", "value": "square"}, {"test": "datum.rate === '1C'", "value": "circle"}, {"test": "datum.rate === '5C'", "value": "triangle-up"}], "value": "triangle-down"}
         }},
        {"data": {"name": "notes"}, "transform": [{"filter": "datum.panel === 'b'"}],
         "mark": {"type": "text", "align": "left", "baseline": "middle", "fontSize": 12, "color": "#111111"},
         "encoding": {"x": {"datum": 4.5, "type": "quantitative", "axis": null}, "y": {"datum": 4.33, "type": "quantitative", "axis": null}, "text": {"field": "tag"}}},
        {"data": {"name": "notes"}, "transform": [{"filter": "datum.panel === 'b'"}],
         "mark": {"type": "text", "align": "left", "baseline": "middle", "fontSize": 10.5, "color": "#111111"},
         "encoding": {"x": {"datum": 3.5, "type": "quantitative", "axis": null}, "y": {"datum": 3.47, "type": "quantitative", "axis": null}, "text": {"field": "temp"}}}
      ],
      "resolve": {"axis": {"x": "independent", "y": "independent"}}
    },
    {
      "width": 202, "height": 162,
      "data": {"name": "c"},
      "layer": [
        {"mark": {"type": "line", "strokeWidth": 2.8, "clip": true},
         "encoding": {
           "x": {"field": "cap", "type": "quantitative", "scale": {"domain": [0, 130], "nice": false, "zero": false}, "axis": {"orient": "bottom", "values": [0, 20, 40, 60, 80, 100, 120], "title": "Discharge capacity / mAh g⁻¹", "titleFontSize": 10, "titlePadding": 6.5, "labelPadding": 2}},
           "y": {"field": "v", "type": "quantitative", "scale": {"domain": [3.4, 4.4], "nice": false, "zero": false}, "axis": {"orient": "left", "values": [3.4, 3.6, 3.8, 4.0, 4.2, 4.4], "format": ".1f", "title": "Voltage / V", "titleFontSize": 10.5, "titlePadding": 1.5, "labelPadding": 2}},
           "color": {"field": "rate", "type": "nominal", "scale": {"domain": ["0.2C", "1C", "5C", "10C"], "range": ["#000000", "#b3201c", "#7ee83e", "#2828c8"]},
             "legend": {"title": null, "orient": "none", "legendX": 161, "legendY": 7, "padding": 0, "symbolSize": 64, "labelFontSize": 8.5, "labelOffset": 2, "rowPadding": 2.5,
               "encode": {"symbols": {"update": {
                 "shape": {"signal": "datum.value === '0.2C' ? 'M-3.2,0H1M-1.57,-0.47H-0.63V0.47H-1.57Z' : datum.value === '1C' ? 'M-3.2,0H1M-1.6,0A0.5,0.5 0 1,0 -0.6,0A0.5,0.5 0 1,0 -1.6,0Z' : datum.value === '5C' ? 'M-3.2,0H1M-1.1,-0.55L-0.52,0.45H-1.68Z' : 'M-3.2,0H1M-1.1,0.55L-0.52,-0.45H-1.68Z'"},
                 "stroke": {"signal": "datum.value === '0.2C' ? '#000000' : datum.value === '1C' ? '#b3201c' : datum.value === '5C' ? '#7ee83e' : '#2828c8'"},
                 "fill": {"signal": "datum.value === '0.2C' ? '#000000' : datum.value === '1C' ? '#b3201c' : datum.value === '5C' ? '#7ee83e' : '#2828c8'"},
                 "size": {"value": 64}, "strokeWidth": {"value": 1}, "opacity": {"value": 1}}}}}}
         }},
        {"mark": {"type": "point", "filled": true, "size": 16, "opacity": 1, "clip": true},
         "encoding": {
           "x": {"field": "cap", "type": "quantitative", "axis": {"orient": "bottom", "values": [10, 30, 50, 70, 90, 110], "labels": false, "domain": false, "title": null, "tickSize": 2}},
           "y": {"field": "v", "type": "quantitative", "axis": {"orient": "left", "values": [3.5, 3.7, 3.9, 4.1, 4.3], "labels": false, "domain": false, "title": null, "tickSize": 2}},
           "color": {"field": "rate", "type": "nominal", "scale": {"domain": ["0.2C", "1C", "5C", "10C"], "range": ["#000000", "#b3201c", "#7ee83e", "#2828c8"]},
             "legend": {"title": null, "orient": "none", "legendX": 161, "legendY": 7, "padding": 0, "symbolSize": 64, "labelFontSize": 8.5, "labelOffset": 2, "rowPadding": 2.5,
               "encode": {"symbols": {"update": {
                 "shape": {"signal": "datum.value === '0.2C' ? 'M-3.2,0H1M-1.57,-0.47H-0.63V0.47H-1.57Z' : datum.value === '1C' ? 'M-3.2,0H1M-1.6,0A0.5,0.5 0 1,0 -0.6,0A0.5,0.5 0 1,0 -1.6,0Z' : datum.value === '5C' ? 'M-3.2,0H1M-1.1,-0.55L-0.52,0.45H-1.68Z' : 'M-3.2,0H1M-1.1,0.55L-0.52,-0.45H-1.68Z'"},
                 "stroke": {"signal": "datum.value === '0.2C' ? '#000000' : datum.value === '1C' ? '#b3201c' : datum.value === '5C' ? '#7ee83e' : '#2828c8'"},
                 "fill": {"signal": "datum.value === '0.2C' ? '#000000' : datum.value === '1C' ? '#b3201c' : datum.value === '5C' ? '#7ee83e' : '#2828c8'"},
                 "size": {"value": 64}, "strokeWidth": {"value": 1}, "opacity": {"value": 1}}}}}},
           "shape": {"condition": [{"test": "datum.rate === '0.2C'", "value": "square"}, {"test": "datum.rate === '1C'", "value": "circle"}, {"test": "datum.rate === '5C'", "value": "triangle-up"}], "value": "triangle-down"}
         }},
        {"data": {"name": "notes"}, "transform": [{"filter": "datum.panel === 'c'"}],
         "mark": {"type": "text", "align": "left", "baseline": "middle", "fontSize": 12, "color": "#111111"},
         "encoding": {"x": {"datum": 4.5, "type": "quantitative", "axis": null}, "y": {"datum": 4.33, "type": "quantitative", "axis": null}, "text": {"field": "tag"}}},
        {"data": {"name": "notes"}, "transform": [{"filter": "datum.panel === 'c'"}],
         "mark": {"type": "text", "align": "left", "baseline": "middle", "fontSize": 10.5, "color": "#111111"},
         "encoding": {"x": {"datum": 3.5, "type": "quantitative", "axis": null}, "y": {"datum": 3.47, "type": "quantitative", "axis": null}, "text": {"field": "temp"}}}
      ],
      "resolve": {"axis": {"x": "independent", "y": "independent"}}
    },
    {
      "width": 202, "height": 162,
      "data": {"name": "d"},
      "layer": [
        {"mark": {"type": "line", "strokeWidth": 2.8, "clip": true},
         "encoding": {
           "x": {"field": "cap", "type": "quantitative", "scale": {"domain": [0, 130], "nice": false, "zero": false}, "axis": {"orient": "bottom", "values": [0, 20, 40, 60, 80, 100, 120], "title": "Discharge capacity / mAh g⁻¹", "titleFontSize": 10, "titlePadding": 6.5, "labelPadding": 2}},
           "y": {"field": "v", "type": "quantitative", "scale": {"domain": [3.4, 4.4], "nice": false, "zero": false}, "axis": {"orient": "left", "values": [3.4, 3.6, 3.8, 4.0, 4.2, 4.4], "format": ".1f", "title": "Voltage / V", "titleFontSize": 10.5, "titlePadding": 1.5, "labelPadding": 2}},
           "color": {"field": "rate", "type": "nominal", "scale": {"domain": ["0.2C", "1C", "5C", "10C"], "range": ["#000000", "#b3201c", "#7ee83e", "#2828c8"]},
             "legend": {"title": null, "orient": "none", "legendX": 161, "legendY": 7, "padding": 0, "symbolSize": 64, "labelFontSize": 8.5, "labelOffset": 2, "rowPadding": 2.5,
               "encode": {
                 "symbols": {"update": {
                   "shape": {"signal": "datum.value === '0.2C' ? 'M-3.2,0H1M-1.57,-0.47H-0.63V0.47H-1.57Z' : datum.value === '1C' ? 'M-3.2,0H1M-1.6,0A0.5,0.5 0 1,0 -0.6,0A0.5,0.5 0 1,0 -1.6,0Z' : datum.value === '5C' ? 'M-3.2,0H1M-1.1,-0.55L-0.52,0.45H-1.68Z' : 'M-3.2,0H1M-1.1,0.55L-0.52,-0.45H-1.68Z'"},
                   "stroke": {"signal": "datum.value === '0.2C' ? '#000000' : datum.value === '1C' ? '#b3201c' : datum.value === '5C' ? '#7ee83e' : '#2828c8'"},
                   "fill": {"signal": "datum.value === '0.2C' ? '#000000' : datum.value === '1C' ? '#b3201c' : datum.value === '5C' ? '#7ee83e' : '#2828c8'"},
                   "size": {"value": 64}, "strokeWidth": {"value": 1}, "opacity": {"value": 1}}},
                 "labels": {"update": {
                   "fill": {"signal": "datum.value === '0.2C' ? '#000000' : datum.value === '1C' ? '#b3201c' : datum.value === '5C' ? '#6fd835' : '#2828c8'"}}}}}}
         }},
        {"mark": {"type": "point", "filled": true, "size": 16, "opacity": 1, "clip": true},
         "encoding": {
           "x": {"field": "cap", "type": "quantitative", "axis": {"orient": "bottom", "values": [10, 30, 50, 70, 90, 110], "labels": false, "domain": false, "title": null, "tickSize": 2}},
           "y": {"field": "v", "type": "quantitative", "axis": {"orient": "left", "values": [3.5, 3.7, 3.9, 4.1, 4.3], "labels": false, "domain": false, "title": null, "tickSize": 2}},
           "color": {"field": "rate", "type": "nominal", "scale": {"domain": ["0.2C", "1C", "5C", "10C"], "range": ["#000000", "#b3201c", "#7ee83e", "#2828c8"]},
             "legend": {"title": null, "orient": "none", "legendX": 161, "legendY": 7, "padding": 0, "symbolSize": 64, "labelFontSize": 8.5, "labelOffset": 2, "rowPadding": 2.5,
               "encode": {
                 "symbols": {"update": {
                   "shape": {"signal": "datum.value === '0.2C' ? 'M-3.2,0H1M-1.57,-0.47H-0.63V0.47H-1.57Z' : datum.value === '1C' ? 'M-3.2,0H1M-1.6,0A0.5,0.5 0 1,0 -0.6,0A0.5,0.5 0 1,0 -1.6,0Z' : datum.value === '5C' ? 'M-3.2,0H1M-1.1,-0.55L-0.52,0.45H-1.68Z' : 'M-3.2,0H1M-1.1,0.55L-0.52,-0.45H-1.68Z'"},
                   "stroke": {"signal": "datum.value === '0.2C' ? '#000000' : datum.value === '1C' ? '#b3201c' : datum.value === '5C' ? '#7ee83e' : '#2828c8'"},
                   "fill": {"signal": "datum.value === '0.2C' ? '#000000' : datum.value === '1C' ? '#b3201c' : datum.value === '5C' ? '#7ee83e' : '#2828c8'"},
                   "size": {"value": 64}, "strokeWidth": {"value": 1}, "opacity": {"value": 1}}},
                 "labels": {"update": {
                   "fill": {"signal": "datum.value === '0.2C' ? '#000000' : datum.value === '1C' ? '#b3201c' : datum.value === '5C' ? '#6fd835' : '#2828c8'"}}}}}},
           "shape": {"condition": [{"test": "datum.rate === '0.2C'", "value": "square"}, {"test": "datum.rate === '1C'", "value": "circle"}, {"test": "datum.rate === '5C'", "value": "triangle-up"}], "value": "triangle-down"}
         }},
        {"data": {"name": "notes"}, "transform": [{"filter": "datum.panel === 'd'"}],
         "mark": {"type": "text", "align": "left", "baseline": "middle", "fontSize": 12, "color": "#111111"},
         "encoding": {"x": {"datum": 4.5, "type": "quantitative", "axis": null}, "y": {"datum": 4.33, "type": "quantitative", "axis": null}, "text": {"field": "tag"}}},
        {"data": {"name": "notes"}, "transform": [{"filter": "datum.panel === 'd'"}],
         "mark": {"type": "text", "align": "left", "baseline": "middle", "fontSize": 10.5, "color": "#111111"},
         "encoding": {"x": {"datum": 3.5, "type": "quantitative", "axis": null}, "y": {"datum": 3.47, "type": "quantitative", "axis": null}, "text": {"field": "temp"}}}
      ],
      "resolve": {"axis": {"x": "independent", "y": "independent"}}
    }
  ]
}
